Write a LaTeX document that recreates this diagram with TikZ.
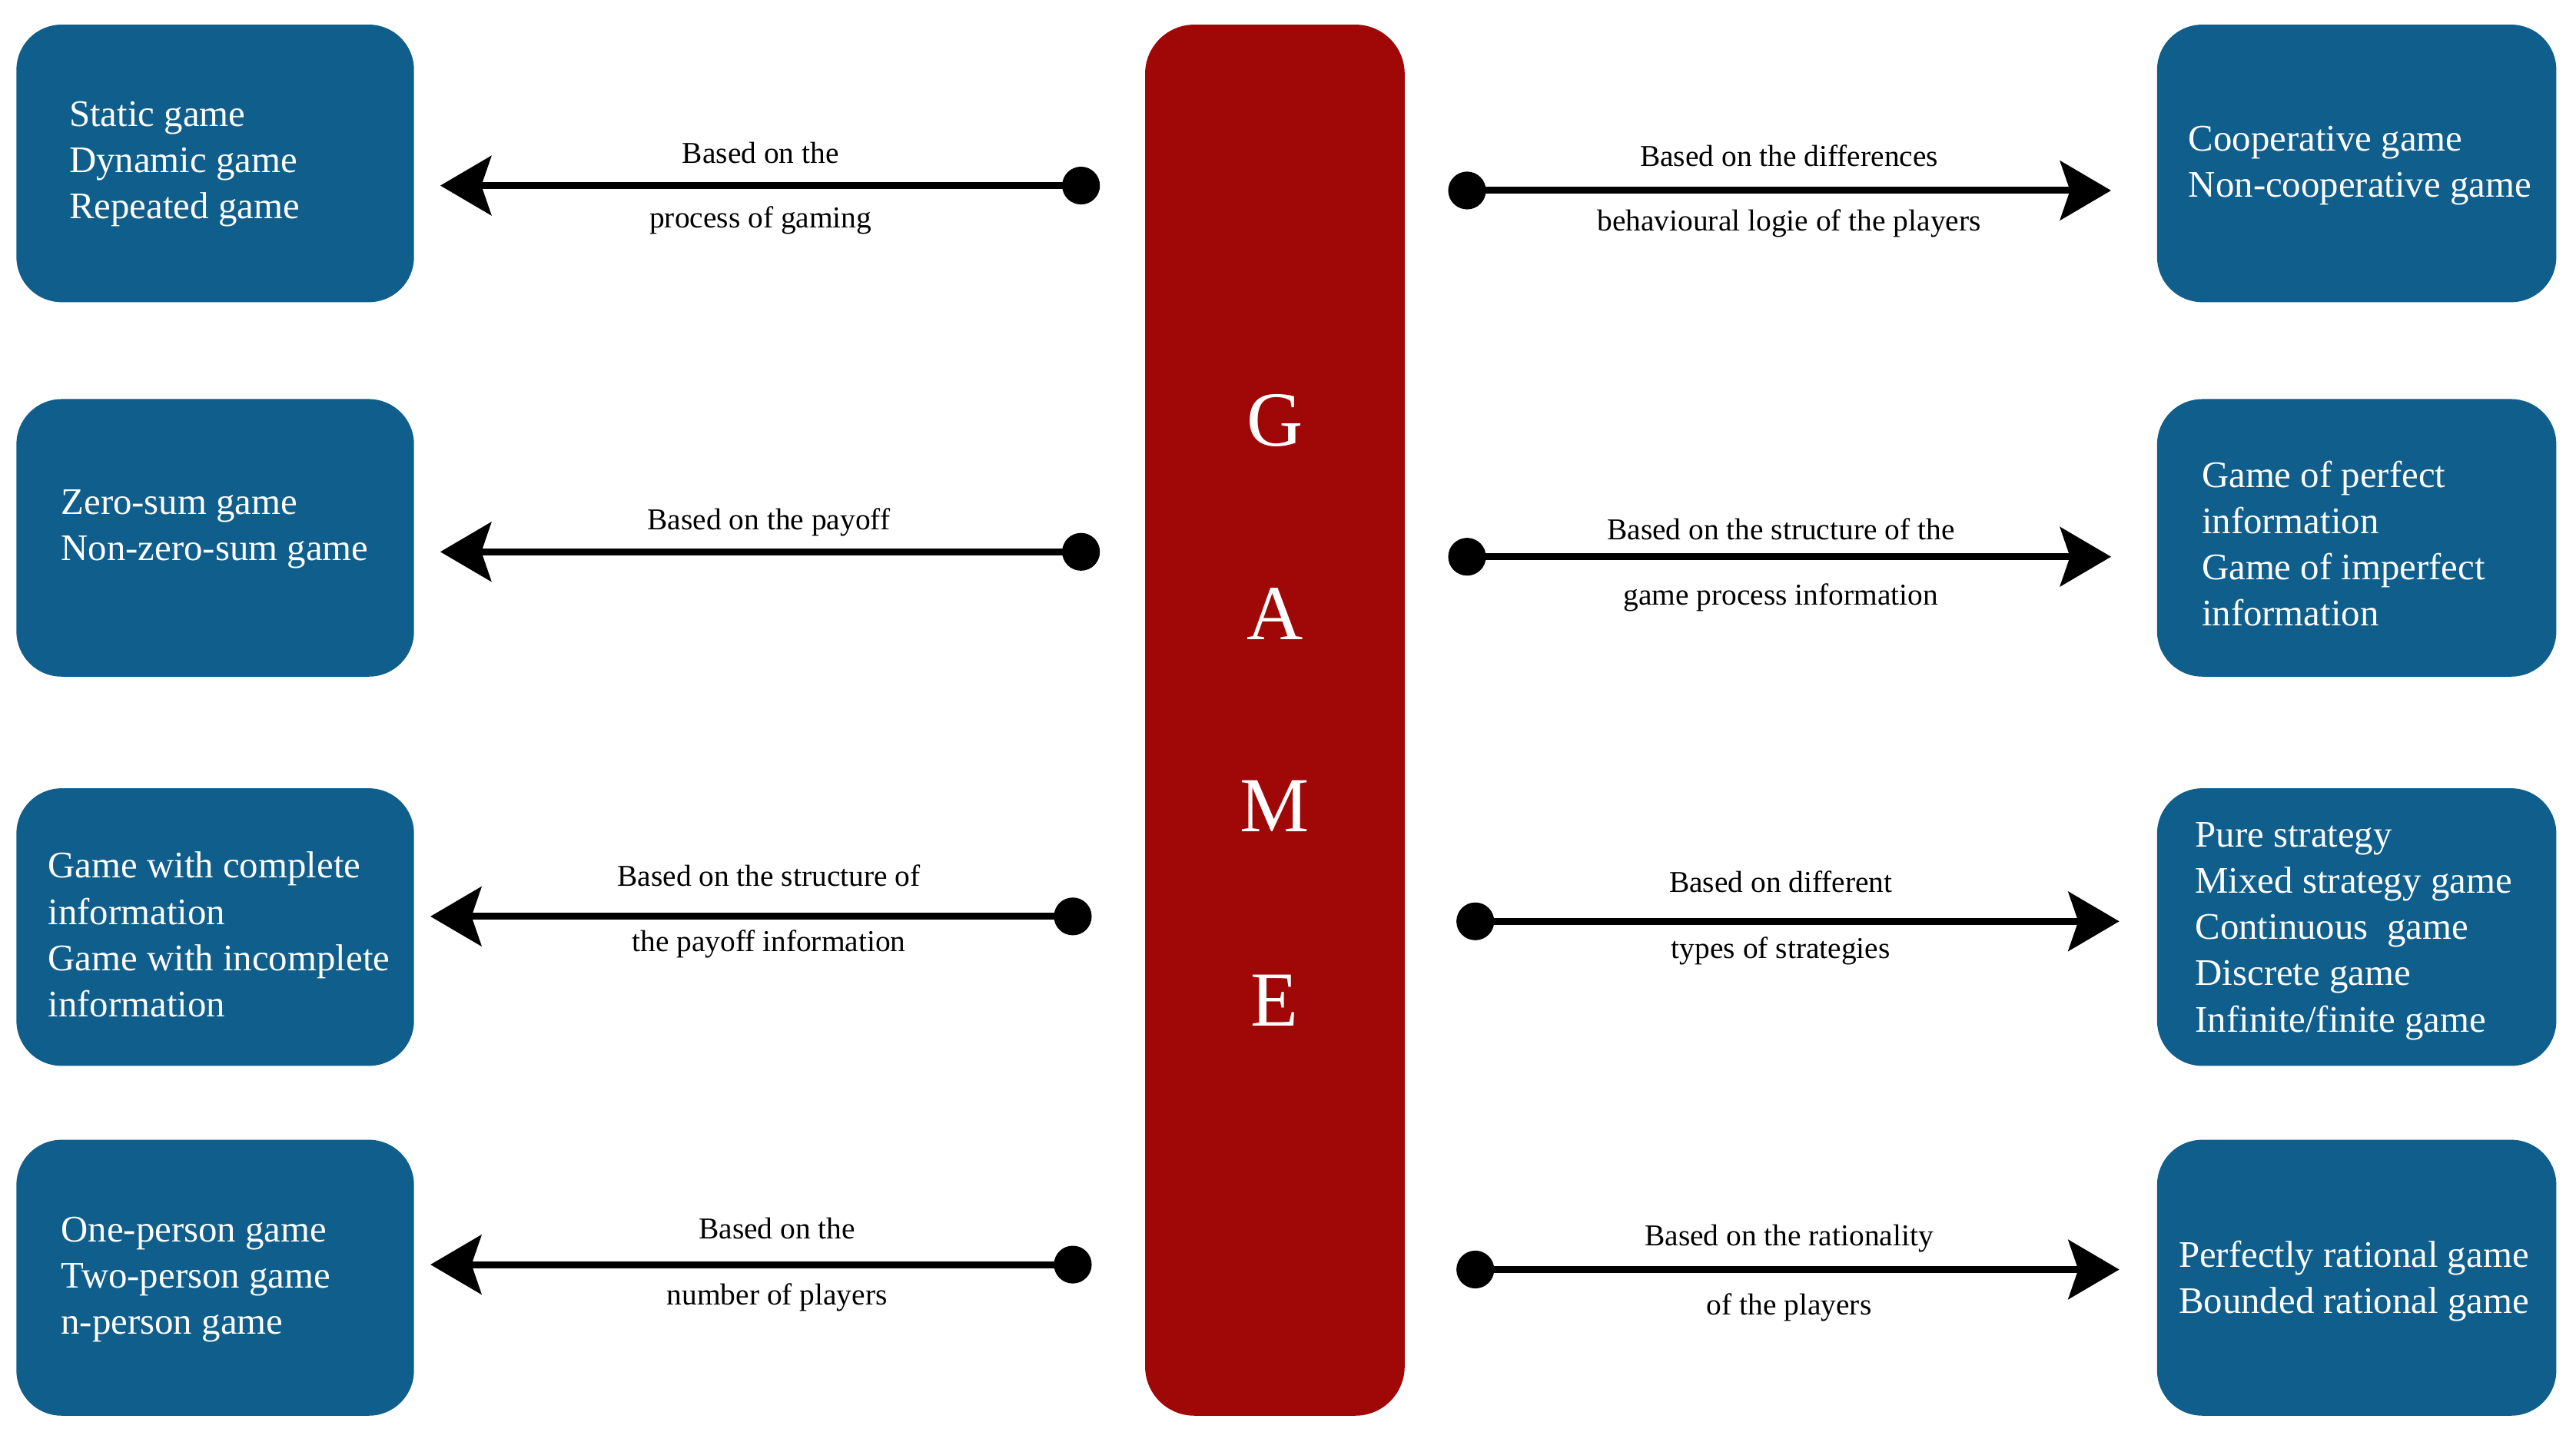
\documentclass[tikz,border=0pt]{standalone}
\usepackage{fontspec}
\setmainfont{Liberation Serif}
\usetikzlibrary{arrows.meta}
\definecolor{bbox}{HTML}{0F5E8C}
\definecolor{rbox}{HTML}{A00707}
\begin{document}
\begin{tikzpicture}[x=0.02cm,y=-0.02cm,
  catbox/.style={fill=bbox,draw=none,rounded corners=0.55cm},
  cattext/.style={anchor=west,align=left,text=white,font=\fontsize{13}{16}\selectfont},
  lab/.style={font=\fontsize{10.5}{12}\selectfont},
  con/.style={line width=2.4pt,-{Stealth[length=0.62cm,width=0.72cm,inset=0.12cm]}},
  dotn/.style={circle,fill=black,inner sep=0pt,minimum size=0.46cm}]
\useasboundingbox (0,0) rectangle (1568,878);
% center
\fill[rbox,rounded corners=0.6cm] (697,15) rectangle (855,862);
\foreach \l/\y in {G/256,A/374,M/491,E/609}
  \node[text=white,font=\fontsize{27}{30}\selectfont] at (776,\y) {\l};
% boxes
\foreach \ya/\yb [count=\i] in {15/184,243/412,480/649,694/862}{
  \fill[catbox] (10,\ya) rectangle (252,\yb);
  \fill[catbox] (1313,\ya) rectangle (1556,\yb);}
\node[cattext] (L1) at (36,100) {Static game\\Dynamic game\\Repeated game};
\node[cattext] (L2) at (31,322) {Zero-sum game\\Non-zero-sum game};
\node[cattext] (L3) at (23,569) {Game with complete\\information\\Game with incomplete\\information};
\node[cattext] (L4) at (31,779) {One-person game\\Two-person game\\n-person game};
\node[cattext] (R1) at (1326,101) {Cooperative game\\Non-cooperative game};
\node[cattext] (R2) at (1334,331) {Game of perfect\\information\\Game of imperfect\\information};
\node[cattext] (R3) at (1330,567) {Pure strategy\\Mixed strategy game\\Continuous\ \ game\\Discrete game\\Infinite/finite game};
\node[cattext] (R4) at (1320,780) {Perfectly rational game\\Bounded rational game};
% connectors
\foreach \n/\dx/\tx/\y in {a/658/268/113,b/658/268/336,c/653/262/558,d/653/262/770,
  e/893/1285/116,f/893/1285/339,g/898/1290/561,h/898/1290/773}{
  \node[dotn] (d\n) at (\dx,\y) {};
  \coordinate (t\n) at (\tx,\y);
  \draw[con] (d\n.center) -- (t\n);}
\node[lab] at (463,93) {Based on the};
\node[lab] at (463,134) {process of gaming};
\node[lab] at (468,318) {Based on the payoff};
\node[lab] at (468,533) {Based on the structure of};
\node[lab] at (468,575) {the payoff information};
\node[lab] at (473,748) {Based on the};
\node[lab] at (473,790) {number of players};
\node[lab] at (1089,95) {Based on the differences};
\node[lab] at (1089,136) {behavioural logie of the players};
\node[lab] at (1084,322) {Based on the structure of the};
\node[lab] at (1084,364) {game process information};
\node[lab] at (1084,537) {Based on different};
\node[lab] at (1084,579) {types of strategies};
\node[lab] at (1089,754) {Based on the rationality};
\node[lab] at (1089,796) {of the players};
\end{tikzpicture}
\end{document}
